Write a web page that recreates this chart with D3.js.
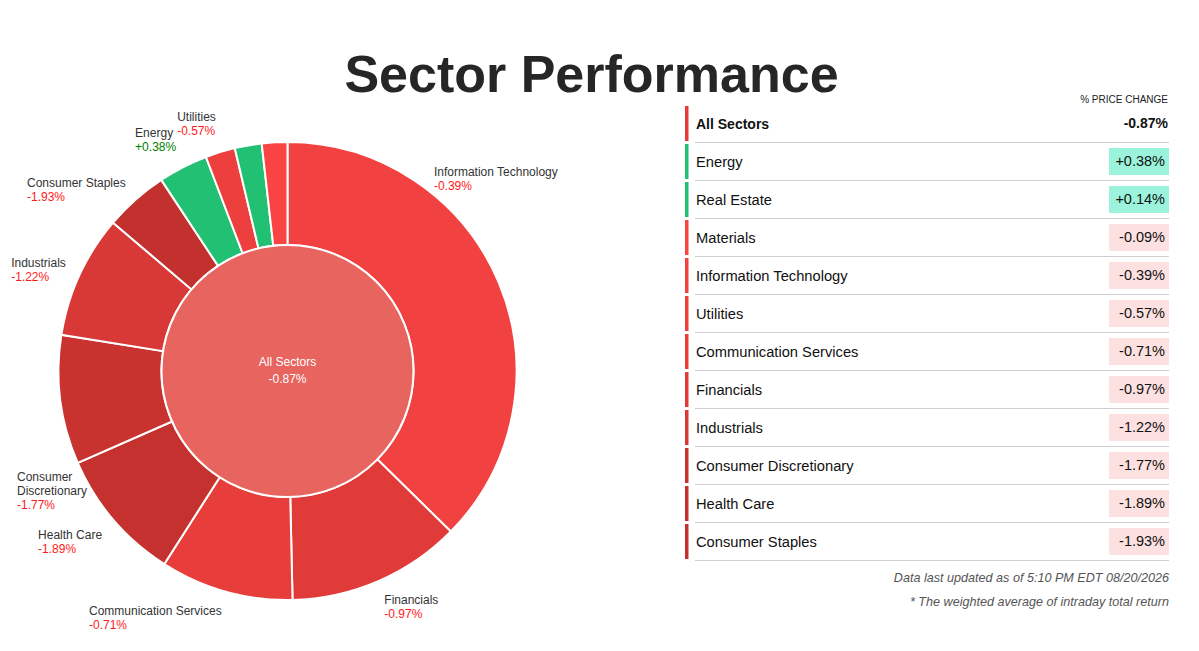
<!DOCTYPE html>
<html>
<head>
<meta charset="utf-8">
<script src="https://cdn.jsdelivr.net/npm/d3@7"></script>
<style>
  body { margin: 0; background: #fff; }
  svg { display: block; font-family: "Liberation Sans", Arial, sans-serif; }
</style>
</head>
<body>
<div id="chart"></div>
<script>
// sectors in donut order (clockwise from 12 o'clock)
const sectors = ['Information Technology', 'Financials', 'Communication Services', 'Health Care',
  'Consumer Discretionary', 'Industrials', 'Consumer Staples', 'Energy', 'Utilities',
  'Real Estate', 'Materials'];
// index weight (% of total)
const weights = [37.4, 12.3, 9.4, 9.4, 9.1, 8.7, 4.5, 3.5, 2.1, 1.9, 1.8];
// % price change
const changes = [-0.39, -0.97, -0.71, -1.89, -1.77, -1.22, -1.93, 0.38, -0.57, 0.14, -0.09];
const allSectors = { name: 'All Sectors', change: -0.87 };
const footNotes = ['Data last updated as of 5:10 PM EDT 08/20/2026',
  '* The weighted average of intraday total return'];

const W = 1199, H = 651;
const cx = 287.5, cy = 371, rOuter = 229, rInner = 126, rLabel = 244;

const svg = d3.select('#chart').append('svg')
  .attr('width', W)
  .attr('height', H);

svg.append('text')
  .attr('x', 591.5)
  .attr('y', 92)
  .attr('text-anchor', 'middle')
  .attr('font-size', 52)
  .attr('font-weight', 'bold')
  .attr('fill', '#262626')
  .text('Sector Performance');

const data = sectors.map((name, i) => ({ name, weight: weights[i], change: changes[i] }));

const redScale = d3.scaleLinear().domain([-1.93, -0.09]).range(['#c3312e', '#fa4443']).clamp(true);
const color = (v) => (v >= 0 ? '#22c073' : redScale(v));
const fmt = (v) => (v > 0 ? '+' : '') + v.toFixed(2) + '%';

// ---- donut ----
const pie = d3.pie().sort(null).value((d) => d.weight);
const arcs = pie(data);
const arc = d3.arc().innerRadius(rInner).outerRadius(rOuter);

const g = svg.append('g').attr('transform', `translate(${cx}, ${cy})`);

g.selectAll('.slice')
  .data(arcs)
  .enter().append('path')
  .attr('class', 'slice')
  .attr('d', arc)
  .attr('fill', (d) => color(d.data.change))
  .attr('stroke', '#fff')
  .attr('stroke-width', 2);

g.append('circle')
  .attr('r', rInner)
  .attr('fill', '#e8645f')
  .attr('stroke', '#fff')
  .attr('stroke-width', 2);

g.append('text')
  .attr('text-anchor', 'middle')
  .attr('fill', '#fff')
  .attr('font-size', 12)
  .selectAll('tspan')
  .data([allSectors.name, fmt(allSectors.change)])
  .enter().append('tspan')
  .attr('x', 0)
  .attr('y', (d, i) => -5 + i * 17)
  .text((d) => d);

// labels sit at the mid angle; two are moved to dodge their neighbours
const labelMove = {
  'Information Technology': { angle: 37.1, r: 242.7 },
  'Consumer Discretionary': { angle: 241.8, r: 227.5, lines: ['Consumer', 'Discretionary'] }
};
const lineH = 14;

const labels = g.selectAll('.label')
  .data(arcs.filter((d) => d.data.weight >= 2))
  .enter().append('text')
  .attr('class', 'label')
  .attr('font-size', 12);

labels.each(function (d) {
  const mv = labelMove[d.data.name] || {};
  const ang = mv.angle !== undefined ? mv.angle * Math.PI / 180 : (d.startAngle + d.endAngle) / 2;
  const r = mv.r || rLabel;
  const ax = Math.sin(ang) * r;
  const ay = -Math.cos(ang) * r;
  const nameLines = mv.lines || [d.data.name];
  const lines = nameLines.map((t) => ({ t, fill: '#333' }))
    .concat([{ t: fmt(d.data.change), fill: d.data.change >= 0 ? '#008000' : '#ff1a1a' }]);
  const c = Math.cos(ang);
  const off = c < 0 ? 12 : (c > 0.85 ? -14.5 : 1);
  const y0 = ay + off - ((lines.length - 1) * lineH - 9) / 2;
  const spans = d3.select(this).selectAll('tspan').data(lines).enter().append('tspan')
    .attr('y', (l, i) => y0 + i * lineH)
    .attr('fill', (l) => l.fill)
    .text((l) => l.t);
  let shift = 0;
  if (Math.sin(ang) < 0) {
    spans.each(function () { shift = Math.max(shift, this.getComputedTextLength()); });
  }
  spans.attr('x', ax - shift);
});

// ---- table ----
const rows = [allSectors].concat(data.slice().sort((a, b) => b.change - a.change));
const rowH = 38, tTop = 104.5, tLeft = 685, tRight = 1169;
const y = d3.scaleBand().domain(rows.map((d) => d.name)).range([tTop, tTop + rowH * rows.length]);

svg.append('text')
  .attr('x', 1168)
  .attr('y', 102.5)
  .attr('text-anchor', 'end')
  .attr('font-size', 10)
  .attr('fill', '#222')
  .text('% PRICE CHANGE');

const row = svg.selectAll('.row')
  .data(rows)
  .enter().append('g')
  .attr('class', 'row')
  .attr('transform', (d) => `translate(0, ${y(d.name)})`);

row.append('rect')
  .attr('x', tLeft)
  .attr('y', 1.5)
  .attr('width', 3.5)
  .attr('height', rowH - 3)
  .attr('fill', (d) => color(d.change));

row.append('line')
  .attr('x1', 695)
  .attr('x2', tRight)
  .attr('y1', rowH)
  .attr('y2', rowH)
  .attr('stroke', '#cfcfcf')
  .attr('stroke-width', 1);

row.filter((d, i) => i > 0).append('rect')
  .attr('x', tRight - 60)
  .attr('y', 5.5)
  .attr('width', 60)
  .attr('height', 27)
  .attr('fill', (d) => (d.change >= 0 ? '#9af3da' : '#fde1e1'));

row.append('text')
  .attr('x', 696)
  .attr('y', rowH / 2 + 5)
  .attr('font-size', (d, i) => (i === 0 ? 14 : 14.7))
  .attr('font-weight', (d, i) => (i === 0 ? 'bold' : 'normal'))
  .attr('fill', '#111')
  .text((d) => d.name);

row.append('text')
  .attr('x', (d, i) => (i === 0 ? tRight - 1 : tRight - 4))
  .attr('y', rowH / 2 + 4.5)
  .attr('text-anchor', 'end')
  .attr('font-size', (d, i) => (i === 0 ? 14 : 14.5))
  .attr('font-weight', (d, i) => (i === 0 ? 'bold' : 'normal'))
  .attr('fill', '#111')
  .text((d) => fmt(d.change));

svg.selectAll('.note')
  .data(footNotes)
  .enter().append('text')
  .attr('class', 'note')
  .attr('x', tRight)
  .attr('y', (d, i) => 582 + i * 24)
  .attr('text-anchor', 'end')
  .attr('font-size', 12.6)
  .attr('font-style', 'italic')
  .attr('fill', '#555')
  .text((d) => d);
</script>
</body>
</html>
